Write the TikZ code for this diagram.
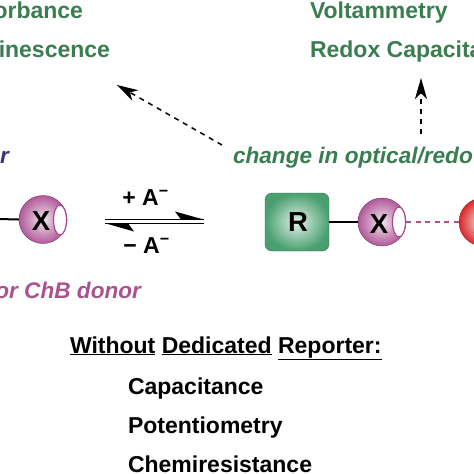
\documentclass[tikz,border=0pt]{standalone}
\usepackage{fontspec}
\setmainfont{Liberation Sans}
\usetikzlibrary{arrows.meta,shadings,shapes.geometric}
\definecolor{gtxt}{HTML}{3A7D50}
\definecolor{ptxt}{HTML}{A8538F}
\definecolor{btxt}{HTML}{3B3278}
\definecolor{pball}{HTML}{A8488F}
\definecolor{gbox}{HTML}{3F9A68}
\definecolor{rball}{HTML}{D8282A}
\tikzset{
  lbl/.style={inner sep=0pt,outer sep=0pt,font=\fontsize{23}{23}\selectfont\bfseries},
  glbl/.style={lbl,text=gtxt},
  klbl/.style={lbl,text=black},
  bigl/.style={inner sep=0pt,outer sep=0pt,text=black,font=\fontsize{27.5}{27.5}\selectfont\bfseries},
  itl/.style={inner sep=0pt,outer sep=0pt,font=\fontsize{22.6}{23}\selectfont\bfseries\itshape},
  ball/.style={circle,minimum size=48pt,inner sep=0pt,draw=pball!70!black,line width=.4pt,inner color=pball!15,outer color=pball!90},
  rballs/.style={circle,minimum size=48pt,inner sep=0pt,draw=rball!80!black,line width=.4pt,inner color=rball!8,outer color=rball},
  pocket/.style={ellipse,draw=pball,line width=1.2pt,fill=white,minimum width=13pt,minimum height=30pt,inner sep=0pt},
  rbox/.style={rounded corners=7pt,minimum width=64pt,minimum height=58pt,inner sep=0pt,draw=gbox!75!black,line width=.4pt,inner color=gbox!15,outer color=gbox!95},
  bond/.style={line width=2pt,black},
  dasharrow/.style={line width=1.5pt,dash pattern=on 5pt off 5pt,-{Stealth[length=21pt,width=12pt,inset=6pt]},black},
  hb/.style={line width=2.6pt,ptxt,dash pattern=on 5pt off 4.5pt},
}
\begin{document}
\begin{tikzpicture}[x=1pt,y=-1pt]
\useasboundingbox (0,0) rectangle (474,474);
\clip (0,0) rectangle (474,474);
\fill[white] (0,0) rectangle (474,474);
% top labels
\node[glbl,anchor=base east] (abs) at (83,18) {orbance};
\node[glbl,anchor=base east] (lum) at (110,57) {inescence};
\node[glbl,anchor=base west] (volt) at (310,18) {Voltammetry};
\node[glbl,anchor=base west] (redox) at (310,57) {Redox Capacita};
\node[itl,text=gtxt,anchor=base west] (chg) at (233,163) {change in optical/redo};
\node[itl,text=btxt,anchor=base east] (rep) at (9,163) {r};
% dashed arrows
\coordinate (d1s) at (222,145); \coordinate (d1e) at (117,85);
\coordinate (d2s) at (421,134); \coordinate (d2e) at (421,78);
\draw[dasharrow] (d1s) -- (d1e);
\draw[dasharrow] (d2s) -- (d2e);
% left receptor
\coordinate (lend) at (-2,219);
\node[ball] (x1) at (43,219.5) {};
\node[pocket] (p1) at (60,220) {};
\draw[bond] (lend) -- (x1.west);
\node[bigl] (x1t) at (41,221) {X};
\node[itl,text=ptxt,anchor=base east] (dn) at (141,298) {or ChB donor};
% equilibrium
\coordinate (eq1) at (105,219.6); \coordinate (eq2) at (204,219.6);
\coordinate (eq3) at (204,223.2); \coordinate (eq4) at (105,223.2);
\draw[line width=1.2pt] (eq1) -- (eq2);
\draw[line width=1.2pt] (eq3) -- (eq4);
\fill (eq2) -- (175,211.5) -- (181,219.6) -- cycle;
\fill (eq4) -- (134,231.5) -- (128,223.2) -- cycle;
\node[klbl] (plus) at (145.5,198) {+ A\textsuperscript{−}};
\node[klbl] (minus) at (146.5,246) {− A\textsuperscript{−}};
% right complex
\node[rbox] (r) at (297,222) {};
\node[bigl] (rt) at (298,222) {R};
\node[ball] (x2) at (382,222) {};
\node[pocket] (p2) at (399,222) {};
\node[bigl] (x2t) at (379,224) {X};
\node[rballs] (an) at (483,222) {};
\node[bigl] (ant) at (483,224) {A};
\draw[bond] (r.east) -- (x2.west);
\draw[hb] (p2.east) -- (an.west);
% bottom
\node[klbl,anchor=base west] (wo) at (70,353) {\underline{Without} \underline{Dedicated} \underline{Reporter:}};
\node[klbl,anchor=base west] (c1) at (128,394) {Capacitance};
\node[klbl,anchor=base west] (c2) at (128,433) {Potentiometry};
\node[klbl,anchor=base west] (c3) at (128,472) {Chemiresistance};
\end{tikzpicture}
\end{document}
